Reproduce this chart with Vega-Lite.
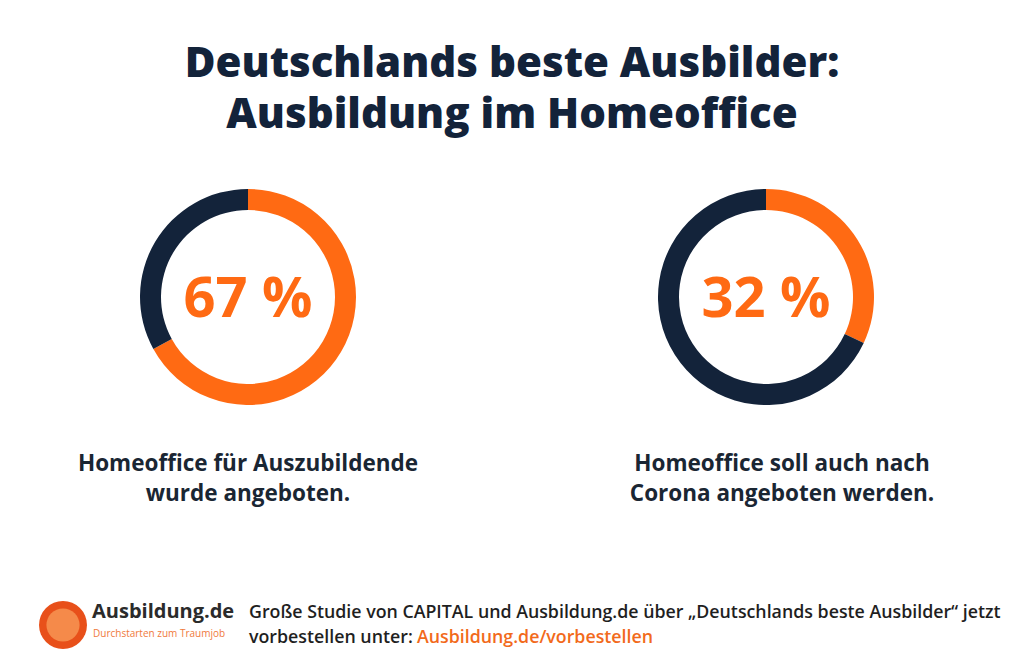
{
  "$schema": "https://vega.github.io/schema/vega-lite/v6.json",
  "background": "white",
  "padding": {"top": 43, "left": 0, "right": 0, "bottom": 0},
  "title": {
    "text": ["Deutschlands beste Ausbilder:", "Ausbildung im Homeoffice"],
    "anchor": "middle",
    "font": "Open Sans",
    "fontSize": 42,
    "fontWeight": 800,
    "lineHeight": 51,
    "color": "#13233a",
    "offset": 40
  },
  "config": {
    "view": {"stroke": null},
    "font": "Open Sans"
  },
  "datasets": {
    "umfrage": [
      {"frage": "angeboten", "antwort": "ja", "anteil": 67},
      {"frage": "angeboten", "antwort": "nein", "anteil": 33},
      {"frage": "nach Corona", "antwort": "ja", "anteil": 32},
      {"frage": "nach Corona", "antwort": "nein", "anteil": 68}
    ],
    "fusszeile": [
      {"zeile": 1, "teil": "hinweis", "inhalt": "Große Studie von CAPITAL und Ausbildung.de über „Deutschlands beste Ausbilder“ jetzt"},
      {"zeile": 2, "teil": "hinweis", "inhalt": "vorbestellen unter:"},
      {"zeile": 2, "teil": "link", "inhalt": "Ausbildung.de/vorbestellen"},
      {"zeile": 1, "teil": "marke", "inhalt": "Ausbildung.de"},
      {"zeile": 2, "teil": "slogan", "inhalt": "Durchstarten zum Traumjob"}
    ]
  },
  "spacing": 94,
  "vconcat": [
    {
      "spacing": 12,
      "hconcat": [
        {
          "width": 496,
          "height": 240,
          "title": {
            "text": ["Homeoffice für Auszubildende", "wurde angeboten."],
            "orient": "bottom",
            "anchor": "middle",
            "font": "Open Sans",
            "fontSize": 22.5,
            "fontWeight": "bold",
            "lineHeight": 30,
            "color": "#1a2633",
            "offset": 36
          },
          "data": {"name": "umfrage"},
          "transform": [{"filter": "datum.frage === 'angeboten'"}],
          "layer": [
            {
              "mark": {"type": "arc", "outerRadius": 108, "innerRadius": 87},
              "encoding": {
                "theta": {"field": "anteil", "type": "quantitative", "stack": true},
                "color": {
                  "field": "antwort",
                  "type": "nominal",
                  "scale": {"domain": ["ja", "nein"], "range": ["#ff6a13", "#13233a"]},
                  "legend": null
                },
                "order": {"field": "antwort", "sort": "ascending"}
              }
            },
            {
              "transform": [
                {"filter": "datum.antwort === 'ja'"},
                {"calculate": "datum.anteil + ' %'", "as": "beschriftung"}
              ],
              "mark": {"type": "text", "fontSize": 56, "fontWeight": "bold", "color": "#ff6a13", "align": "center", "baseline": "middle", "dy": 3},
              "encoding": {"text": {"field": "beschriftung", "type": "nominal"}}
            }
          ]
        },
        {
          "width": 516,
          "height": 240,
          "title": {
            "text": ["Homeoffice soll auch nach", "Corona angeboten werden."],
            "orient": "bottom",
            "anchor": "middle",
            "font": "Open Sans",
            "fontSize": 22.5,
            "fontWeight": "bold",
            "lineHeight": 30,
            "color": "#1a2633",
            "offset": 36,
            "dx": 16
          },
          "data": {"name": "umfrage"},
          "transform": [{"filter": "datum.frage === 'nach Corona'"}],
          "layer": [
            {
              "mark": {"type": "arc", "outerRadius": 108, "innerRadius": 87},
              "encoding": {
                "theta": {"field": "anteil", "type": "quantitative", "stack": true},
                "color": {
                  "field": "antwort",
                  "type": "nominal",
                  "scale": {"domain": ["ja", "nein"], "range": ["#ff6a13", "#13233a"]},
                  "legend": null
                },
                "order": {"field": "antwort", "sort": "ascending"}
              }
            },
            {
              "transform": [
                {"filter": "datum.antwort === 'ja'"},
                {"calculate": "datum.anteil + ' %'", "as": "beschriftung"}
              ],
              "mark": {"type": "text", "fontSize": 56, "fontWeight": "bold", "color": "#ff6a13", "align": "center", "baseline": "middle", "dy": 3},
              "encoding": {"text": {"field": "beschriftung", "type": "nominal"}}
            }
          ]
        }
      ]
    },
    {
      "width": 1024,
      "height": 50,
      "data": {"name": "fusszeile"},
      "encoding": {
        "y": {"field": "zeile", "type": "ordinal", "scale": {"type": "point", "padding": 0.5}, "axis": null}
      },
      "layer": [
        {
          "mark": {"type": "point", "shape": "circle", "filled": true, "size": 2300, "color": "#e8501a", "opacity": 1, "x": 63},
          "encoding": {"y": {"value": 25}},
          "transform": [{"filter": "datum.teil === 'marke'"}]
        },
        {
          "mark": {"type": "point", "shape": "circle", "filled": true, "size": 1100, "color": "#f58a4a", "opacity": 1, "x": 63},
          "encoding": {"y": {"value": 25}},
          "transform": [{"filter": "datum.teil === 'marke'"}]
        },
        {
          "transform": [{"filter": "datum.teil === 'marke'"}],
          "mark": {"type": "text", "x": 92, "align": "left", "baseline": "middle", "fontSize": 20, "fontWeight": "bold", "color": "#2b2b2b", "dy": -1},
          "encoding": {"text": {"field": "inhalt"}}
        },
        {
          "transform": [{"filter": "datum.teil === 'slogan'"}],
          "mark": {"type": "text", "x": 93, "align": "left", "baseline": "middle", "fontSize": 10, "color": "#f07a3c", "dy": -4},
          "encoding": {"text": {"field": "inhalt"}}
        },
        {
          "transform": [{"filter": "datum.teil === 'hinweis'"}],
          "mark": {"type": "text", "x": 249, "align": "left", "baseline": "middle", "fontSize": 17.8, "fontWeight": 600, "color": "#1f1f1f"},
          "encoding": {"text": {"field": "inhalt"}}
        },
        {
          "transform": [{"filter": "datum.teil === 'link'"}],
          "mark": {"type": "text", "x": 249, "dx": 168, "align": "left", "baseline": "middle", "fontSize": 17.8, "fontWeight": 600, "color": "#f26a1b"},
          "encoding": {"text": {"field": "inhalt"}}
        }
      ]
    }
  ]
}
